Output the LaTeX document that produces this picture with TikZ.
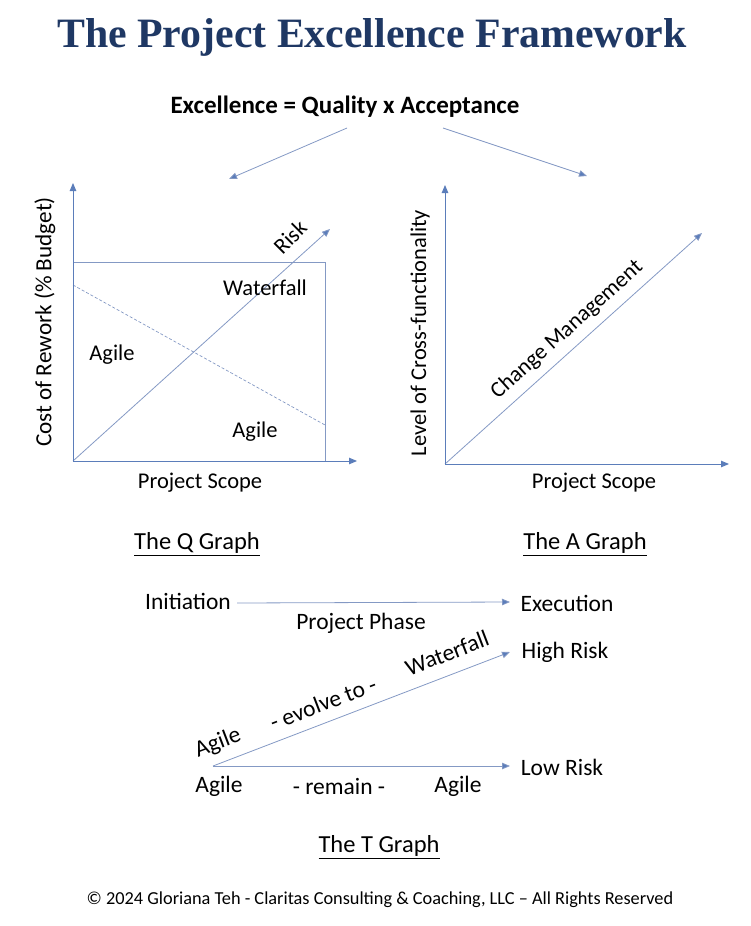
\documentclass[tikz,border=0pt]{standalone}
\usepackage{fontspec}
\setmainfont{Carlito}
\newfontfamily\titlefont{Liberation Serif}
\newfontfamily\footfont{Carlito}
\usetikzlibrary{arrows.meta}
\definecolor{navy}{HTML}{1F3864}
\definecolor{axisblue}{HTML}{5B7DBA}
\definecolor{thinblue}{HTML}{8499C4}
\tikzset{
  body/.style={font=\fontsize{22.5}{24}\selectfont, inner sep=0pt, text=black},
  tbody/.style={font=\fontsize{23.5}{25}\selectfont, inner sep=0pt, text=black},
  gname/.style={font=\fontsize{24.5}{26}\selectfont, inner sep=0pt, text=black},
  axis/.style={draw=axisblue, line width=0.9pt, -{Triangle[length=8pt,width=6.5pt]}},
  thin/.style={draw=thinblue, line width=0.8pt},
  thinarrow/.style={draw=thinblue, line width=0.8pt, -{Triangle[length=8pt,width=6.5pt,fill=axisblue]}},
  dashline/.style={draw=thinblue, line width=0.7pt, dash pattern=on 3pt off 2pt},
}
\begin{document}
\begin{tikzpicture}[x=1pt,y=-1pt]
\useasboundingbox (0,0) rectangle (750,926);
% title
\node[inner sep=0pt, text=navy, font=\titlefont\bfseries\fontsize{41.8}{44}\selectfont] (title) at (372,37) {The Project Excellence Framework};
\node[inner sep=0pt, font=\bfseries\fontsize{25}{27}\selectfont] (eq) at (345,107) {Excellence = Quality x Acceptance};
\coordinate (eqL) at (347,128);
\coordinate (eqR) at (443,128);
\coordinate (toQ) at (229,179);
\coordinate (toA) at (587,176);
\draw[thinarrow] (eqL) -- (toQ);
\draw[thinarrow] (eqR) -- (toA);

% Q graph
\coordinate (qO) at (73,461);
\coordinate (qY) at (73,183);
\coordinate (qX) at (357,461);
\coordinate (qR) at (330,229);
\coordinate (qC) at (325,262);
\coordinate (qD1) at (73,285);
\coordinate (qD2) at (325,425);
\draw[thin] (qO) rectangle (qC);
\draw[dashline] (qD1) -- (qD2);
\draw[thinarrow] (qO) -- (qR);
\draw[axis] (qO) -- (qY);
\draw[axis] (qO) -- (qX);
\node[body, rotate=45] (risk) at (290,237) {Risk};
\node[body] (qwf) at (265,288) {Waterfall};
\node[body] (qag1) at (112,355) {Agile};
\node[body] (qag2) at (255,432) {Agile};
\node[inner sep=0pt, font=\fontsize{23.2}{25}\selectfont, rotate=90] (qylab) at (45,322) {Cost of Rework (\% Budget)};
\node[body] (qxlab) at (200,483) {Project Scope};
\node[gname] (qname) at (197,544) {\underline{The Q Graph}};

% A graph
\coordinate (aO) at (445,464);
\coordinate (aY) at (445,185);
\coordinate (aX) at (729,464);
\coordinate (aR) at (702,233);
\draw[thinarrow] (aO) -- (aR);
\draw[axis] (aO) -- (aY);
\draw[axis] (aO) -- (aX);
\node[body, rotate=42] (cm) at (567,330) {Change Management};
\node[body, rotate=90] (aylab) at (420,333) {Level of Cross-functionality};
\node[body] (axlab) at (594,483) {Project Scope};
\node[gname] (aname) at (585,544) {\underline{The A Graph}};

% T graph
\node[tbody] (init) at (188,601) {Initiation};
\node[tbody] (exec) at (567,603) {Execution};
\node[tbody] (phase) at (361,623) {Project Phase};
\node[tbody] (high) at (565,652) {High Risk};
\node[tbody] (low) at (562,767) {Low Risk};
\coordinate (tO) at (213,766);
\coordinate (tH) at (510,652);
\coordinate (tL) at (510,766);
\coordinate (pS) at (237,603);
\coordinate (pE) at (510,602);
\draw[thinarrow] (pS) -- (pE);
\draw[thinarrow] (tO) -- (tH);
\draw[thinarrow] (tO) -- (tL);
\node[tbody, rotate=21] (tag1) at (218,743) {Agile};
\node[tbody, rotate=21] (tevo) at (323,703) {- evolve to -};
\node[tbody, rotate=21] (twf) at (447,653) {Waterfall};
\node[tbody] (tag2) at (219,786) {Agile};
\node[tbody] (trem) at (339,786) {- remain -};
\node[tbody] (tag3) at (458,786) {Agile};
\node[gname] (tname) at (379,847) {\underline{The T Graph}};

% footer
\node[inner sep=0pt, font=\footfont\fontsize{18.3}{20}\selectfont] (foot) at (380,900) {© 2024 Gloriana Teh - Claritas Consulting \& Coaching, LLC – All Rights Reserved};
\end{tikzpicture}
\end{document}
